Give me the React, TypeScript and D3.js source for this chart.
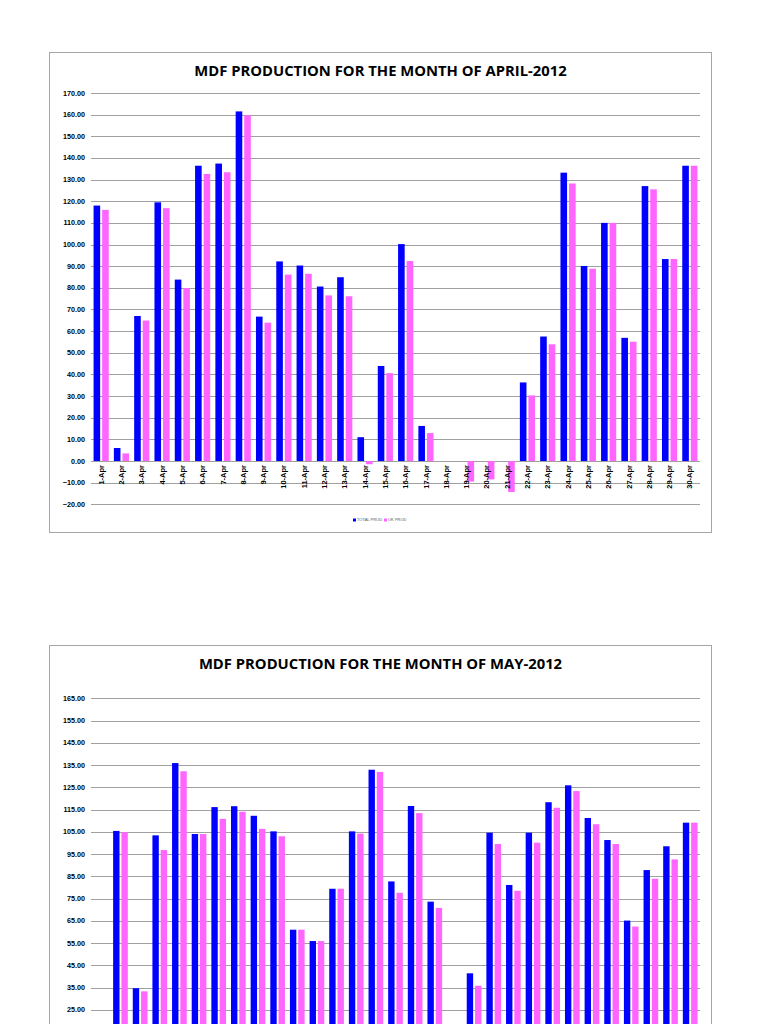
import React, { useEffect, useRef } from 'react';
import * as d3 from 'd3';

// daily production, April 2012
const aprilDays = [
  '1-Apr', '2-Apr', '3-Apr', '4-Apr', '5-Apr', '6-Apr', '7-Apr', '8-Apr', '9-Apr', '10-Apr',
  '11-Apr', '12-Apr', '13-Apr', '14-Apr', '15-Apr', '16-Apr', '17-Apr', '18-Apr', '19-Apr', '20-Apr',
  '21-Apr', '22-Apr', '23-Apr', '24-Apr', '25-Apr', '26-Apr', '27-Apr', '28-Apr', '29-Apr', '30-Apr',
];
const aprilTotal = [
  118.0, 6.0, 67.0, 119.5, 83.8, 136.4, 137.4, 161.5, 66.7, 92.2,
  90.3, 80.6, 84.9, 11.0, 43.9, 100.2, 16.2, 0, 0, 0,
  0, 36.3, 57.5, 133.2, 90.1, 110.0, 56.9, 127.0, 93.3, 136.4,
];
const aprilOk = [
  116.0, 3.5, 64.9, 116.8, 79.9, 132.6, 133.4, 159.7, 63.9, 86.1,
  86.5, 76.5, 76.1, -1.5, 40.6, 92.4, 12.9, 0, -9.5, -8.5,
  -14.3, 30.3, 53.9, 128.2, 88.8, 110.0, 55.1, 125.5, 93.3, 136.4,
];
const aprilTicks = [-20, -10, 0, 10, 20, 30, 40, 50, 60, 70, 80, 90, 100, 110, 120, 130, 140, 150, 160, 170];

// daily production, May 2012
const mayDays = [
  '1-May', '2-May', '3-May', '4-May', '5-May', '6-May', '7-May', '8-May', '9-May', '10-May',
  '11-May', '12-May', '13-May', '14-May', '15-May', '16-May', '17-May', '18-May', '19-May', '20-May',
  '21-May', '22-May', '23-May', '24-May', '25-May', '26-May', '27-May', '28-May', '29-May', '30-May',
  '31-May',
];
const mayTotal = [
  0, 105.4, 34.7, 103.4, 135.9, 104.0, 116.1, 116.5, 112.2, 105.2,
  61.0, 55.9, 79.4, 105.2, 132.9, 82.7, 116.6, 73.6, 0, 41.4,
  104.6, 81.1, 104.6, 118.3, 125.9, 111.2, 101.3, 65.1, 87.8, 98.5,
  109.1,
];
const mayOk = [
  0, 104.8, 33.3, 96.8, 132.2, 104.0, 110.8, 114.0, 106.3, 103.0,
  61.0, 55.9, 79.4, 104.2, 131.9, 77.6, 113.4, 70.8, 0, 35.8,
  99.5, 78.5, 100.1, 115.8, 123.3, 108.4, 99.5, 62.4, 83.9, 92.6,
  109.1,
];
const mayTicks = [-15, -5, 5, 15, 25, 35, 45, 55, 65, 75, 85, 95, 105, 115, 125, 135, 145, 155, 165];

const seriesNames = ['TOTAL PROD', 'OK PROD'];
const seriesColors = ['#0000ff', '#ff66ff'];

const frameX = 49;
const frameW = 662;
const frameH = 480;
const plotLeft = 91;
const plotRight = 700;

function drawChart(root, opts) {
  const { top, title, days, total, ok, ticks, plotTop, plotBottom } = opts;

  const g = root.append('g');

  g.append('rect')
    .attr('x', frameX + 0.5)
    .attr('y', top + 0.5)
    .attr('width', frameW)
    .attr('height', frameH)
    .attr('fill', '#fff')
    .attr('stroke', '#a6a6a6');

  g.append('text')
    .attr('x', frameX + frameW / 2 + 0.5)
    .attr('y', top + 24)
    .attr('text-anchor', 'middle')
    .style('font-family', '"Open Sans", sans-serif')
    .style('font-weight', 700)
    .style('font-size', '14.8px')
    .text(title);

  const y = d3
    .scaleLinear()
    .domain([ticks[0], ticks[ticks.length - 1]])
    .range([plotBottom, plotTop]);

  const x0 = d3.scaleBand().domain(days).range([plotLeft, plotRight]).padding(0);
  const x1 = d3
    .scaleBand()
    .domain(seriesNames)
    .range([0, x0.bandwidth()])
    .paddingInner(0.23)
    .paddingOuter(0.3);

  // horizontal gridlines + value labels
  g.selectAll('.grid')
    .data(ticks)
    .enter()
    .append('line')
    .attr('x1', plotLeft)
    .attr('x2', plotRight)
    .attr('y1', (d) => Math.round(y(d)) + 0.5)
    .attr('y2', (d) => Math.round(y(d)) + 0.5)
    .attr('stroke', '#a0a0a0')
    .attr('stroke-width', 1);

  g.selectAll('.ylabel')
    .data(ticks)
    .enter()
    .append('text')
    .attr('x', plotLeft - 6)
    .attr('y', (d) => y(d))
    .attr('dy', '0.35em')
    .attr('text-anchor', 'end')
    .style('font-family', '"Liberation Sans", Arial, sans-serif')
    .style('font-weight', 700)
    .style('font-size', '7.2px')
    .text((d) => d3.format('.2f')(d));

  const rows = days.map((d, i) => ({ day: d, values: [total[i], ok[i]] }));

  const groups = g
    .selectAll('.day')
    .data(rows)
    .enter()
    .append('g')
    .attr('transform', (d) => `translate(${x0(d.day)},0)`);

  groups
    .selectAll('rect')
    .data((d) => d.values.map((v, j) => ({ v, j })))
    .enter()
    .append('rect')
    .attr('x', (d) => x1(seriesNames[d.j]))
    .attr('width', x1.bandwidth())
    .attr('y', (d) => y(Math.max(0, d.v)))
    .attr('height', (d) => Math.abs(y(d.v) - y(0)))
    .attr('fill', (d) => seriesColors[d.j]);

  // rotated day labels just under the zero line
  groups
    .append('text')
    .attr('transform', `translate(${x0.bandwidth() / 2}, ${y(0) + 4}) rotate(-90)`)
    .attr('dy', '0.35em')
    .attr('text-anchor', 'end')
    .style('font-family', '"Liberation Sans", Arial, sans-serif')
    .style('font-weight', 700)
    .style('font-size', '7.5px')
    .text((d) => d.day);

  // legend
  const legend = g
    .append('g')
    .attr('transform', `translate(${frameX + frameW / 2 - 27}, ${top + frameH - 12})`);
  const item = legend
    .selectAll('g')
    .data(seriesNames)
    .enter()
    .append('g')
    .attr('transform', (_, i) => `translate(${i * 31},0)`);
  item
    .append('rect')
    .attr('x', 0)
    .attr('y', -1.5)
    .attr('width', 3)
    .attr('height', 3)
    .attr('fill', (_, i) => seriesColors[i]);
  item
    .append('text')
    .attr('x', 4)
    .attr('dy', '0.35em')
    .style('font-family', '"Liberation Sans", Arial, sans-serif')
    .style('font-size', '4px')
    .style('fill', '#555')
    .text((d) => d);
}

export default function App() {
  const ref = useRef(null);

  useEffect(() => {
    const svg = d3.select(ref.current);
    svg.selectAll('*').remove();

    drawChart(svg, {
      top: 52,
      title: 'MDF PRODUCTION FOR THE MONTH OF APRIL-2012',
      days: aprilDays,
      total: aprilTotal,
      ok: aprilOk,
      ticks: aprilTicks,
      plotTop: 93,
      plotBottom: 504.3,
    });

    drawChart(svg, {
      top: 645,
      title: 'MDF PRODUCTION FOR THE MONTH OF MAY-2012',
      days: mayDays,
      total: mayTotal,
      ok: mayOk,
      ticks: mayTicks,
      plotTop: 698.3,
      plotBottom: 1098.8,
    });
  }, []);

  return (
    <svg
      ref={ref}
      width={768}
      height={1024}
      style={{ position: 'absolute', left: 0, top: 0, background: '#fff' }}
    />
  );
}
